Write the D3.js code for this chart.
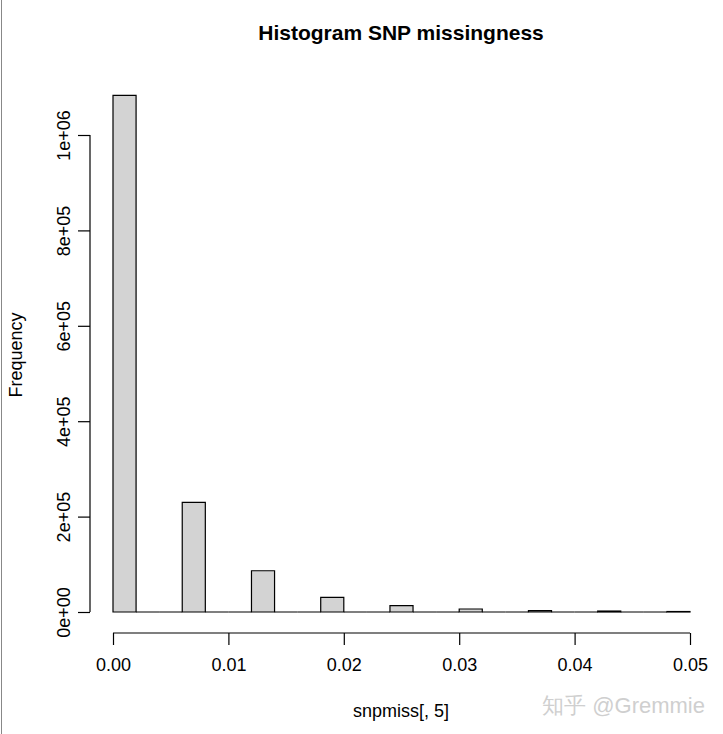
<!DOCTYPE html>
<html><head><meta charset="utf-8">
<script src="https://cdn.jsdelivr.net/npm/d3@7"></script>
<style>body{margin:0;background:#fff}svg{display:block}text{font-family:"Liberation Sans",Arial,sans-serif}</style>
</head><body>
<script>
const binStart = 0, binWidth = 0.002;
const counts = [1083000,0,0,230000,0,0,86500,0,0,30800,0,0,13200,0,0,6300,0,0,3000,0,0,2000,0,0,1000];
const xTicks = [0,0.01,0.02,0.03,0.04,0.05];
const xTickLabels = ["0.00","0.01","0.02","0.03","0.04","0.05"];
const yTicks = [0,200000,400000,600000,800000,1000000];
const yTickLabels = ["0e+00","2e+05","4e+05","6e+05","8e+05","1e+06"];
const title = "Histogram SNP missingness";
const xLabel = "snpmiss[, 5]";
const yLabel = "Frequency";

const W=723,H=734;
const svg=d3.select("body").append("svg").attr("width",W).attr("height",H);
svg.append("rect").attr("width",W).attr("height",H).attr("fill","#fff");
svg.append("line").attr("x1",1.5).attr("x2",1.5).attr("y1",0).attr("y2",H).attr("stroke","#888").attr("stroke-width",1);

const x=d3.scaleLinear().domain([0,0.05]).range([113,690]);
const y=d3.scaleLinear().domain([0,1000000]).range([612,135]);

const bins=counts.map((c,i)=>({x0:binStart+i*binWidth,x1:binStart+(i+1)*binWidth,c}));
svg.append("g").selectAll("path").data(bins).join("path")
 .attr("d",d=>`M${x(d.x0)},${y(0)}V${y(d.c)}H${x(d.x1)}V${y(0)}Z`)
 .attr("fill","#d3d3d3").attr("stroke","#000").attr("stroke-width",1.2);

const xa=svg.append("g").attr("transform","translate(0,633)")
 .call(d3.axisBottom(x).tickValues(xTicks).tickFormat((d,i)=>xTickLabels[i]).tickSize(12).tickPadding(13));
xa.select(".domain").attr("stroke-width",1.2).attr("d",`M${x(0)},0H${x(0.05)}`);
xa.selectAll(".tick line").attr("stroke-width",1.2);
xa.selectAll("text").attr("font-size",18).attr("fill","#000").attr("font-family","Liberation Sans, Arial, sans-serif");

const ya=svg.append("g").attr("transform","translate(90,0)")
 .call(d3.axisLeft(y).tickValues(yTicks).tickFormat((d,i)=>yTickLabels[i]).tickSize(12).tickPadding(0));
ya.select(".domain").attr("stroke-width",1.2).attr("d",`M0,${y(0)}V${y(1000000)}`);
ya.selectAll(".tick line").attr("stroke-width",1.2);
ya.selectAll("text").attr("font-size",18).attr("fill","#000").attr("font-family","Liberation Sans, Arial, sans-serif")
 .attr("text-anchor","middle").attr("transform","translate(-26,0) rotate(-90)").attr("x",0).attr("dy","0.35em");

svg.append("text").attr("x",401).attr("y",40).attr("text-anchor","middle").attr("font-weight","bold").attr("font-size",21).text(title);
svg.append("text").attr("x",401).attr("y",717).attr("text-anchor","middle").attr("font-size",18).text(xLabel);
svg.append("text").attr("transform","translate(22,355) rotate(-90)").attr("text-anchor","middle").attr("font-size",18).text(yLabel);
svg.append("text").attr("x",705).attr("y",713).attr("text-anchor","end").attr("font-size",22).attr("fill","#cfcfcf").attr("font-family","Noto Sans CJK SC, sans-serif").text("知乎 @Gremmie");
</script>
</body></html>
